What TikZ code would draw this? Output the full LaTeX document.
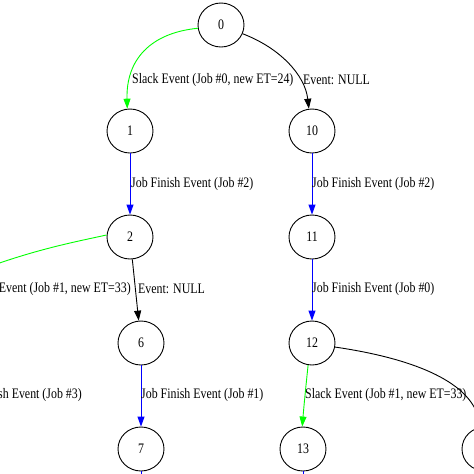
\documentclass[tikz,border=0pt]{standalone}
\usepackage{fontspec}
\setmainfont{Liberation Serif}[FakeStretch=0.82]
\usetikzlibrary{arrows.meta,shapes.geometric}
\definecolor{gvgreen}{RGB}{0,255,0}
\definecolor{gvblue}{RGB}{0,0,255}
\begin{document}
\begin{tikzpicture}[x=1pt,y=-1pt,
  state/.style={draw,ellipse,line width=0.9pt,minimum width=46pt,minimum height=44pt,inner sep=0pt,font=\fontsize{14.5}{17}\selectfont},
  lab/.style={inner sep=0pt,font=\fontsize{14.5}{17}\selectfont},
  edge/.style={line width=0.9pt,-{Triangle[length=10pt,width=7pt]}},
  plain/.style={line width=0.9pt}]
\useasboundingbox (0,0) rectangle (474,474);
\fill[white] (0,0) rectangle (474,474);
% nodes
\node[state] (n0) at (221,25) {0};
\node[state] (n1) at (130,131) {1};
\node[state] (n10) at (312,131) {10};
\node[state] (n2) at (130,237) {2};
\node[state] (n11) at (312,237) {11};
\node[state] (n6) at (141,343) {6};
\node[state] (n12) at (312,343) {12};
\node[state] (n7) at (141,449) {7};
\node[state] (n13) at (303,449) {13};
\node[state] (n14) at (485,449) {};
\coordinate (offL) at (-40,278);
\coordinate (below7) at (141,500);
\coordinate (below13) at (303,500);
% edges
\draw[edge,gvgreen] (n0.188) .. controls (150,33) and (126,60) .. (n1.97);
\draw[edge,black] (n0.-22) .. controls (280,48) and (305,75) .. (n10.98);
\draw[edge,gvblue] (n1) -- (n2);
\draw[edge,gvblue] (n10) -- (n11);
\draw[edge,gvblue] (n11) -- (n12);
\draw[plain,gvgreen] (n2.175) .. controls (75,242) and (25,251) .. (offL);
\draw[edge,black] (n2) -- (n6);
\draw[edge,gvblue] (n6) -- (n7);
\draw[edge,gvgreen] (n12.-100) .. controls (306,385) and (304,405) .. (n13.92);
\draw[edge,black] (n12.-10) .. controls (410,358) and (468,380) .. (n14.100);
\draw[plain,gvblue] (n7) -- (below7);
\draw[plain,gvblue] (n13) -- (below13);
% labels
\node[lab,anchor=west] (l01) at (132,80) {Slack Event (Job \#0, new ET=24)};
\node[lab,anchor=west] (l010) at (303,80) {Event: NULL};
\node[lab,anchor=west] (l12) at (131,184) {Job Finish Event (Job \#2)};
\node[lab,anchor=west] (l1011) at (312,184) {Job Finish Event (Job \#2)};
\node[lab,anchor=east] (l2x) at (131,289) {Slack Event (Job \#1, new ET=33)};
\node[lab,anchor=west] (l26) at (138,289) {Event: NULL};
\node[lab,anchor=west] (l1112) at (312,289) {Job Finish Event (Job \#0)};
\node[lab,anchor=east] (lx) at (82,395) {Job Finish Event (Job \#3)};
\node[lab,anchor=west] (l67) at (141,395) {Job Finish Event (Job \#1)};
\node[lab,anchor=west] (l1213) at (305,395) {Slack Event (Job \#1, new ET=33)};
\end{tikzpicture}
\end{document}
